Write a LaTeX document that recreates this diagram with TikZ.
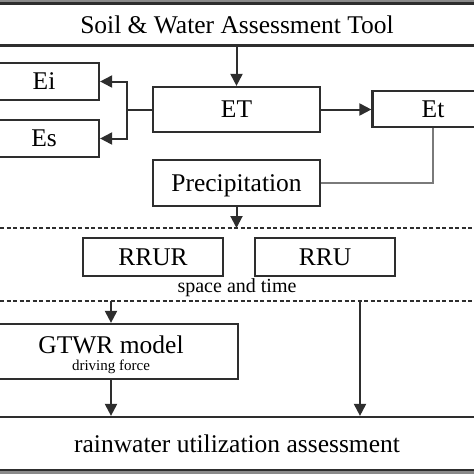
\documentclass[tikz,border=0pt]{standalone}
\usepackage{fontspec}
\setmainfont{Liberation Serif}
\usetikzlibrary{arrows.meta}
\definecolor{ink}{HTML}{2E2E2E}
\definecolor{band}{HTML}{8A8A8A}
\definecolor{lgray}{HTML}{7A7A7A}
\tikzset{
  box/.style={draw=ink, line width=2.2pt, inner sep=0pt, minimum width=#1, text=black,
    text depth=0pt, font=\fontsize{25.5}{30}\selectfont},
  arr/.style={draw=ink, line width=2pt, -{Triangle[length=12pt,width=12pt]}},
  conn/.style={draw=ink, line width=2pt},
  sep/.style={draw=ink, line width=1.5pt, dash pattern=on 4pt off 2.5pt},
  grayconn/.style={draw=lgray, line width=1.6pt},
  lbl/.style={inner sep=0pt, anchor=base, text=black},
}
\begin{document}
\begin{tikzpicture}[x=1pt,y=-1pt]
\useasboundingbox (0,0) rectangle (474,474);
\clip (0,0) rectangle (474,474);
\fill[band] (0,0) rectangle (474,3);
\fill[band] (0,470) rectangle (474,474);
\node[box=490pt, minimum height=42pt] (top) at (237,24.5) {Soil \& Water Assessment Tool};
\node[box=110pt, minimum height=37pt] (Ei) at (44,81.5) {Ei};
\node[box=110pt, minimum height=37pt] (Es) at (44,138.5) {Es};
\node[box=167pt, minimum height=45pt] (ET) at (236.5,109.5) {ET};
\node[box=121pt, minimum height=36pt] (Et) at (433,109) {Et};
\node[box=167pt, minimum height=46pt] (P) at (236.5,183) {Precipitation};
\node[box=140pt, minimum height=38pt] (RRUR) at (153,257) {RRUR};
\node[box=140pt, minimum height=38pt] (RRU) at (325,257) {RRU};
\node[lbl, font=\fontsize{20}{24}\selectfont] (st) at (237,292.5) {space and time};
\node[box=254pt, minimum height=55pt] (G) at (111,351.5) {};
\node[lbl, font=\fontsize{25.5}{30}\selectfont] (Gt) at (111,353.3) {GTWR model};
\node[lbl, font=\fontsize{15}{18}\selectfont] (Gd) at (111,370.7) {driving force};
\node[box=490pt, minimum height=53pt] (bot) at (237,443.5) {rainwater utilization assessment};
\coordinate (d1a) at (0,228);
\coordinate (d1b) at (474,228);
\coordinate (d2a) at (0,301);
\coordinate (d2b) at (474,301);
\coordinate (split) at (127,109.5);
\coordinate (rr) at (360,301);
\draw[sep] (d1a) -- (d1b);
\draw[sep] (d2a) -- (d2b);
\draw[arr] (ET.north |- top.south) -- (ET.north);
\draw[conn] (ET.west) -- (split);
\draw[arr] (split) |- (Ei.east);
\draw[arr] (split) |- (Es.east);
\draw[arr] (ET.east) -- (ET.east -| Et.west);
\draw[grayconn] (Et.south) |- (P.east);
\draw[arr] (P.south) -- (P.south |- d1a);
\draw[arr] (G.north |- d2a) -- (G.north);
\draw[arr] (G.south) -- (G.south |- bot.north);
\draw[arr] (rr) -- (rr |- bot.north);
\end{tikzpicture}
\end{document}
